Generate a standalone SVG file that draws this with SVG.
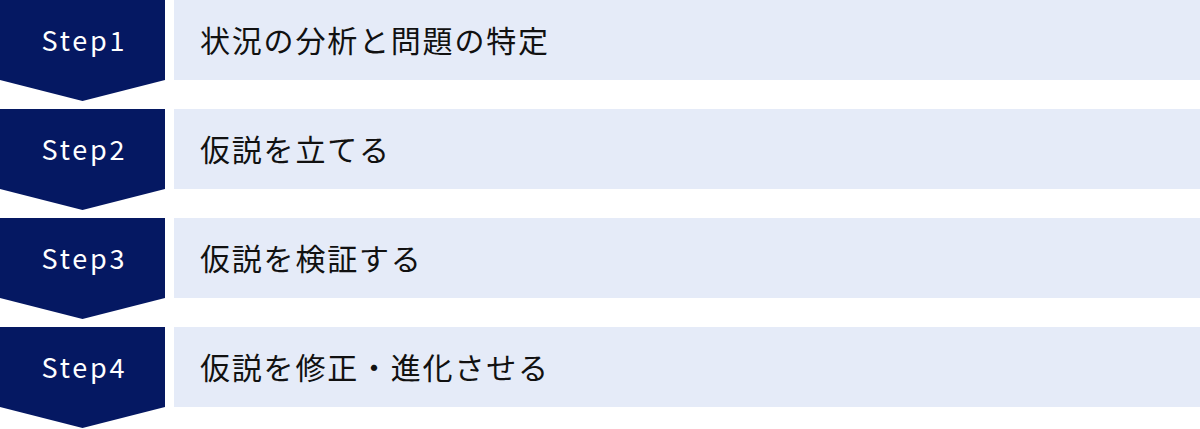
<svg xmlns="http://www.w3.org/2000/svg" width="1200" height="429" viewBox="0 0 1200 429">
<style>
.step{fill:#051862}
.box{fill:#e5ebf8}
.lbl{font-family:"Noto Sans CJK JP","Noto Sans",sans-serif;font-size:27px;fill:#ffffff;letter-spacing:2.8px;text-anchor:middle;dominant-baseline:central}
.txt{font-family:"Noto Sans CJK JP","Noto Sans",sans-serif;font-size:30px;fill:#111111;letter-spacing:1.8px;dominant-baseline:central}
</style>
<rect width="1200" height="429" fill="#ffffff"/>
<g id="step1">
<path class="step" d="M0 0H165V80L82.5 101L0 80Z"/>
<rect class="box" x="174" y="0" width="1026" height="80"/>
<text class="lbl" x="84.4" y="39.5">Step1</text>
<text class="txt" x="200" y="38.5">状況の分析と問題の特定</text>
</g>
<g id="step2">
<path class="step" d="M0 109H165V189L82.5 210L0 189Z"/>
<rect class="box" x="174" y="109" width="1026" height="80"/>
<text class="lbl" x="84.4" y="148.5">Step2</text>
<text class="txt" x="200" y="147.5">仮説を立てる</text>
</g>
<g id="step3">
<path class="step" d="M0 218H165V298L82.5 319L0 298Z"/>
<rect class="box" x="174" y="218" width="1026" height="80"/>
<text class="lbl" x="84.4" y="257.5">Step3</text>
<text class="txt" x="200" y="256.5">仮説を検証する</text>
</g>
<g id="step4">
<path class="step" d="M0 327H165V407L82.5 428L0 407Z"/>
<rect class="box" x="174" y="327" width="1026" height="80"/>
<text class="lbl" x="84.4" y="366.5">Step4</text>
<text class="txt" x="200" y="365.5">仮説を修正・進化させる</text>
</g>
<g id="connectors"></g>
</svg>
